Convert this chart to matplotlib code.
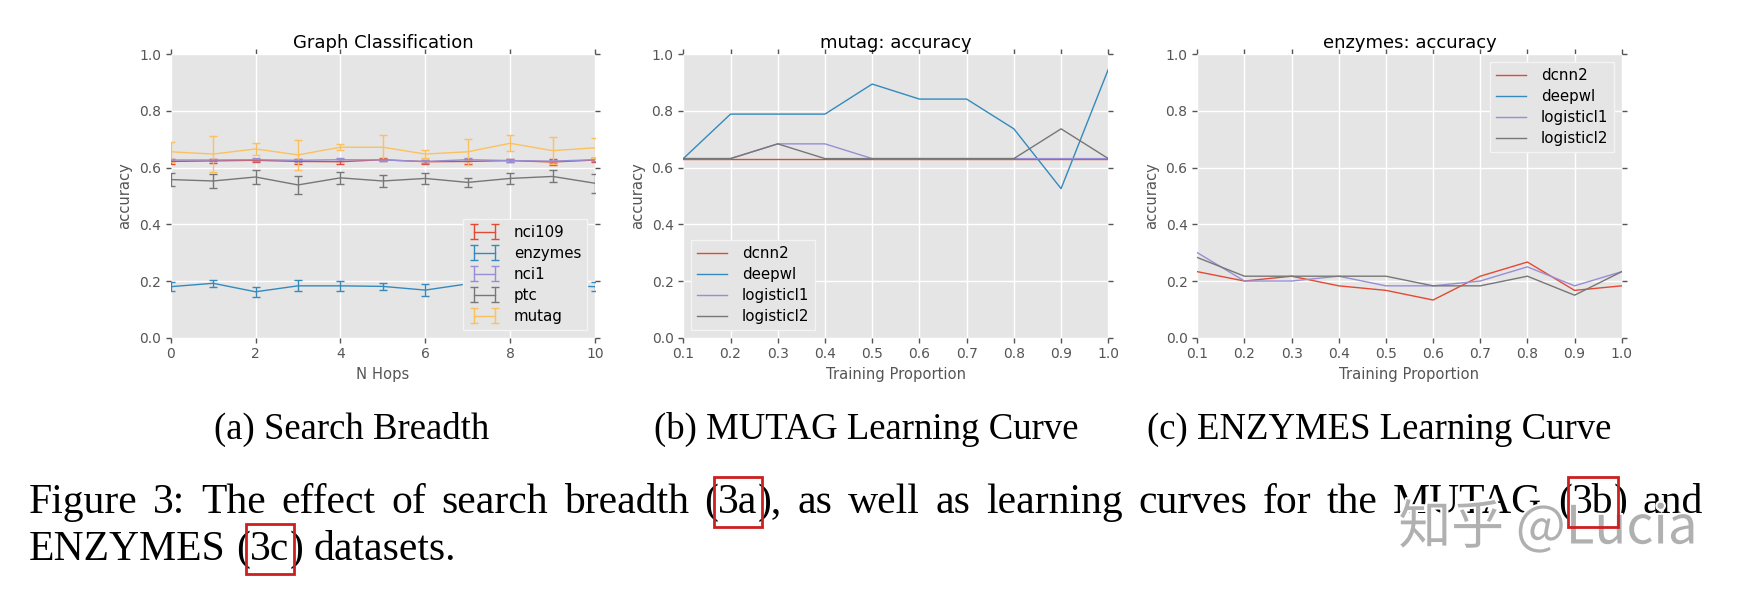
import matplotlib
matplotlib.use('Agg')
import matplotlib.pyplot as plt
from matplotlib.patches import Rectangle
import matplotlib.patheffects as pe
from matplotlib.ticker import MultipleLocator, FormatStrFormatter

# ---------------- data ----------------
hops = [0, 1, 2, 3, 4, 5, 6, 7, 8, 9, 10]
nci109_acc = [0.622, 0.624, 0.626, 0.622, 0.621, 0.628, 0.621, 0.622, 0.625, 0.620, 0.627]
nci109_err = [0.008, 0.007, 0.006, 0.008, 0.009, 0.006, 0.007, 0.009, 0.006, 0.009, 0.006]
enzymes_acc = [0.180, 0.192, 0.162, 0.183, 0.183, 0.181, 0.168, 0.190, 0.190, 0.185, 0.180]
enzymes_err = [0.015, 0.012, 0.017, 0.019, 0.018, 0.013, 0.021, 0.015, 0.015, 0.015, 0.015]
nci1_acc = [0.627, 0.627, 0.628, 0.626, 0.628, 0.627, 0.622, 0.628, 0.625, 0.623, 0.628]
nci1_err = [0.005, 0.005, 0.005, 0.005, 0.005, 0.005, 0.005, 0.005, 0.005, 0.005, 0.005]
ptc_acc = [0.558, 0.553, 0.567, 0.539, 0.564, 0.553, 0.562, 0.548, 0.562, 0.569, 0.545]
ptc_err = [0.024, 0.024, 0.025, 0.032, 0.020, 0.020, 0.020, 0.017, 0.020, 0.021, 0.033]
mutag_acc = [0.656, 0.648, 0.666, 0.645, 0.672, 0.672, 0.648, 0.656, 0.686, 0.660, 0.670]
mutag_err = [0.035, 0.062, 0.020, 0.054, 0.010, 0.042, 0.014, 0.046, 0.028, 0.047, 0.035]

proportions = [0.1, 0.2, 0.3, 0.4, 0.5, 0.6, 0.7, 0.8, 0.9, 1.0]
mutag_dcnn2 = [0.632, 0.632, 0.632, 0.632, 0.632, 0.632, 0.632, 0.632, 0.632, 0.632]
mutag_deepwl = [0.632, 0.789, 0.789, 0.789, 0.895, 0.842, 0.842, 0.737, 0.526, 0.947]
mutag_logisticl1 = [0.632, 0.632, 0.684, 0.684, 0.632, 0.632, 0.632, 0.632, 0.632, 0.632]
mutag_logisticl2 = [0.632, 0.632, 0.684, 0.632, 0.632, 0.632, 0.632, 0.632, 0.737, 0.632]

enzymes_dcnn2 = [0.233, 0.200, 0.217, 0.183, 0.167, 0.133, 0.217, 0.267, 0.167, 0.183]
enzymes_deepwl = []  # not visible in the reference
enzymes_logisticl1 = [0.300, 0.200, 0.200, 0.217, 0.183, 0.183, 0.200, 0.250, 0.183, 0.233]
enzymes_logisticl2 = [0.283, 0.217, 0.217, 0.217, 0.217, 0.183, 0.183, 0.217, 0.150, 0.233]

hop_series = ['nci109', 'enzymes', 'nci1', 'ptc', 'mutag']
method_names = ['dcnn2', 'deepwl', 'logisticl1', 'logisticl2']
titles = ['Graph Classification', 'mutag: accuracy', 'enzymes: accuracy']
xlabels = ['N Hops', 'Training Proportion', 'Training Proportion']
subcaptions = ['(a) Search Breadth', '(b) MUTAG Learning Curve', '(c) ENZYMES Learning Curve']
caption_line1 = [[('Figure', 0)], [('3:', 0)], [('The', 0)], [('effect', 0)], [('of', 0)],
                 [('search', 0)], [('breadth', 0)], [('(', 0), ('3a', 1), ('),', 0)],
                 [('as', 0)], [('well', 0)], [('as', 0)], [('learning', 0)], [('curves', 0)],
                 [('for', 0)], [('the', 0)], [('MUTAG', 0)], [('(', 0), ('3b', 1), (')', 0)],
                 [('and', 0)]]
caption_line2 = [[('ENZYMES', 0)], [('(', 0), ('3c', 1), (')', 0)], [('datasets.', 0)]]
watermark = '知乎 @Lucia'

# ---------------- style ----------------
W, H = 1740, 596
DPI = 100
colors = ['#E24A33', '#348ABD', '#988ED5', '#777777', '#FBC15E']

fig = plt.figure(figsize=(W / DPI, H / DPI), dpi=DPI)
fig.patch.set_facecolor('white')


def fx(px):
    return px / W


def fy(py):
    return 1 - py / H


axes_px = [(170.7, 54.3, 595.0, 337.7), (683.3, 54.3, 1108.3, 337.7), (1197.3, 54.3, 1621.7, 337.7)]
axes = []
for (l, t, r, b) in axes_px:
    axes.append(fig.add_axes([fx(l), fy(b), (r - l) / W, (b - t) / H]))


def style(ax, title, xlabel):
    ax.set_facecolor('#E5E5E5')
    ax.grid(True, color='white', lw=1, ls='-')
    ax.set_axisbelow(True)
    for s in ax.spines.values():
        s.set_visible(False)
    ax.tick_params(direction='out', top=True, right=True, length=3.5, width=1,
                   color='#555555', labelcolor='#555555', labelsize=10, pad=3.5)
    ax.set_ylim(0, 1)
    ax.yaxis.set_major_locator(MultipleLocator(0.2))
    ax.yaxis.set_major_formatter(FormatStrFormatter('%.1f'))
    ax.set_ylabel('accuracy', fontsize=10.6, color='#555555', labelpad=5)
    ax.set_xlabel(xlabel, fontsize=10.6, color='#555555', labelpad=4)
    ax.set_title(title, fontsize=13, pad=4.5, color='black')


leg_kw = dict(fontsize=10.8, fancybox=False, facecolor='#E5E5E5', edgecolor='#F4F4F4',
              framealpha=1, labelspacing=0.4, handletextpad=1.0, borderpad=0.4,
              borderaxespad=0.5)

# panel a
ax = axes[0]
hop_means = [nci109_acc, enzymes_acc, nci1_acc, ptc_acc, mutag_acc]
hop_errs = [nci109_err, enzymes_err, nci1_err, ptc_err, mutag_err]
for name, m, e, c in zip(hop_series, hop_means, hop_errs, colors):
    ax.errorbar(hops, m, yerr=e, color=c, lw=1, elinewidth=1, capsize=3, capthick=1, label=name)
ax.set_xlim(0, 10)
ax.xaxis.set_major_locator(MultipleLocator(2))
style(ax, titles[0], xlabels[0])
ax.legend(loc='lower right', numpoints=2, handlelength=2.0, **leg_kw)

# panel b
ax = axes[1]
for name, v, c in zip(method_names, [mutag_dcnn2, mutag_deepwl, mutag_logisticl1, mutag_logisticl2], colors):
    ax.plot(proportions[:len(v)], v, color=c, lw=1, label=name)
ax.set_xlim(0.1, 1.0)
ax.set_xticks(proportions)
ax.xaxis.set_major_formatter(FormatStrFormatter('%.1f'))
style(ax, titles[1], xlabels[1])
ax.legend(loc='lower left', handlelength=2.0, **leg_kw)

# panel c
ax = axes[2]
for name, v, c in zip(method_names, [enzymes_dcnn2, enzymes_deepwl, enzymes_logisticl1, enzymes_logisticl2], colors):
    ax.plot(proportions[:len(v)], v, color=c, lw=1, label=name)
ax.set_xlim(0.1, 1.0)
ax.set_xticks(proportions)
ax.xaxis.set_major_formatter(FormatStrFormatter('%.1f'))
style(ax, titles[2], xlabels[2])
ax.legend(loc='upper right', handlelength=2.0, **leg_kw)

# ---------------- captions ----------------
serif = 'Liberation Serif'
for s, cx in zip(subcaptions, [352, 866, 1379]):
    fig.text(fx(cx), fy(439), s, fontsize=26.5, family=serif, ha='center', va='baseline')

renderer = fig.canvas.get_renderer()
CAP_SIZE = 30


def piece_width(s):
    t = fig.text(0, 0, s, fontsize=CAP_SIZE, family=serif)
    w = t.get_window_extent(renderer).width
    t.remove()
    return w


def draw_line(words, x_left, baseline, x_right=None):
    widths = [[piece_width(p) for p, _ in w] for w in words]
    totals = [sum(w) for w in widths]
    if x_right is None:
        gap = 0.25 * CAP_SIZE * DPI / 72
    else:
        gap = (x_right - x_left - sum(totals)) / (len(words) - 1)
    x = x_left
    for w, ws in zip(words, widths):
        for (p, boxed), pw in zip(w, ws):
            fig.text(fx(x), fy(baseline), p, fontsize=CAP_SIZE, family=serif,
                     ha='left', va='baseline', zorder=3)
            if boxed:
                x0, x1 = x - 4, x + pw + 5
                y0, y1 = baseline - 36, baseline + 14
                fig.add_artist(Rectangle((fx(x0), fy(y1)), (x1 - x0) / W, (y1 - y0) / H,
                                         transform=fig.transFigure, fill=False,
                                         edgecolor='#CC1F1F', lw=2, zorder=20))
            x += pw
        x += gap


draw_line(caption_line1, 29, 513, 1703)
draw_line(caption_line2, 29, 560)

fig.text(fx(1548), fy(528), watermark, fontsize=38, family=['Noto Sans CJK SC', 'DejaVu Sans'],
         color='#b0b0b0', ha='center', va='center', zorder=10,
         path_effects=[pe.withStroke(linewidth=3, foreground='white')])

fig.savefig('out.png', dpi=DPI, facecolor='white')
